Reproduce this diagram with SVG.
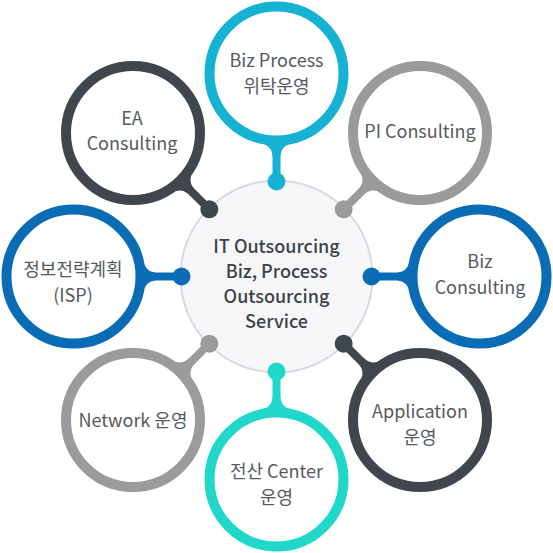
<svg xmlns="http://www.w3.org/2000/svg" width="553" height="553" viewBox="0 0 553 553">
<defs>
<style>
.ring{fill:#fff;stroke-width:10}
.lbl{font-family:"Noto Sans CJK KR","Noto Sans",sans-serif;font-size:18px;fill:#555a5e;text-anchor:middle}
.ctr{font-family:"Noto Sans CJK KR","Noto Sans",sans-serif;font-size:18px;font-weight:500;fill:#3b4249;text-anchor:middle}
.c1{fill:#15b2d3;stroke:#15b2d3}
.c2{fill:#9a9b9d;stroke:#9a9b9d}
.c3{fill:#0a6cb5;stroke:#0a6cb5}
.c4{fill:#3f464d;stroke:#3f464d}
.c5{fill:#1fd8c9;stroke:#1fd8c9}
</style>
<g id="tail"><path d="M -15,-133.5 C -6,-130 -4,-126 -4,-118 L -4,-97 L 4,-97 L 4,-118 C 4,-126 6,-130 15,-133.5 Z" stroke="none"/><circle cx="0" cy="-95" r="9" stroke="none"/></g>
</defs>
<g id="center">
<circle cx="276.5" cy="276.5" r="96" fill="#f7f7f9" stroke="#d6dae4" stroke-width="2"/>
<text class="ctr" x="276.5" y="253">IT Outsourcing</text>
<text class="ctr" x="276.5" y="278">Biz, Process</text>
<text class="ctr" x="276.5" y="303">Outsourcing</text>
<text class="ctr" x="276.5" y="328">Service</text>
</g>
<g id="connectors" transform="translate(276.5,276.5)">
<use href="#tail" class="c1" transform="rotate(0)"/>
<use href="#tail" class="c2" transform="rotate(45)"/>
<use href="#tail" class="c3" transform="rotate(90)"/>
<use href="#tail" class="c4" transform="rotate(135)"/>
<use href="#tail" class="c5" transform="rotate(180)"/>
<use href="#tail" class="c2" transform="rotate(225)"/>
<use href="#tail" class="c3" transform="rotate(270)"/>
<use href="#tail" class="c4" transform="rotate(315)"/>
</g>
<g id="node-biz-process">
<circle class="ring" cx="276.5" cy="73.5" r="67" stroke="#15b2d3"/>
<text class="lbl" x="276.5" y="67">Biz Process</text>
<text class="lbl" x="276.5" y="93">위탁운영</text>
</g>
<g id="node-pi">
<circle class="ring" cx="420" cy="133" r="67" stroke="#9a9b9d"/>
<text class="lbl" x="420" y="138">PI Consulting</text>
</g>
<g id="node-biz-consulting">
<circle class="ring" cx="479.5" cy="276.5" r="67" stroke="#0a6cb5"/>
<text class="lbl" x="480" y="268">Biz</text>
<text class="lbl" x="480" y="294">Consulting</text>
</g>
<g id="node-application">
<circle class="ring" cx="420" cy="420" r="67" stroke="#3f464d"/>
<text class="lbl" x="420" y="418">Application</text>
<text class="lbl" x="420" y="444">운영</text>
</g>
<g id="node-center-ops">
<circle class="ring" cx="276.5" cy="479.5" r="67" stroke="#1fd8c9"/>
<text class="lbl" x="276.5" y="478">전산 Center</text>
<text class="lbl" x="276.5" y="504">운영</text>
</g>
<g id="node-network">
<circle class="ring" cx="133" cy="420" r="67" stroke="#9a9b9d"/>
<text class="lbl" x="133" y="427">Network 운영</text>
</g>
<g id="node-isp">
<circle class="ring" cx="73.5" cy="276.5" r="67" stroke="#0a6cb5"/>
<text class="lbl" x="73" y="276">정보전략계획</text>
<text class="lbl" x="73" y="302">(ISP)</text>
</g>
<g id="node-ea">
<circle class="ring" cx="133" cy="133" r="67" stroke="#3f464d"/>
<text class="lbl" x="132" y="125">EA</text>
<text class="lbl" x="132" y="150">Consulting</text>
</g>
</svg>
